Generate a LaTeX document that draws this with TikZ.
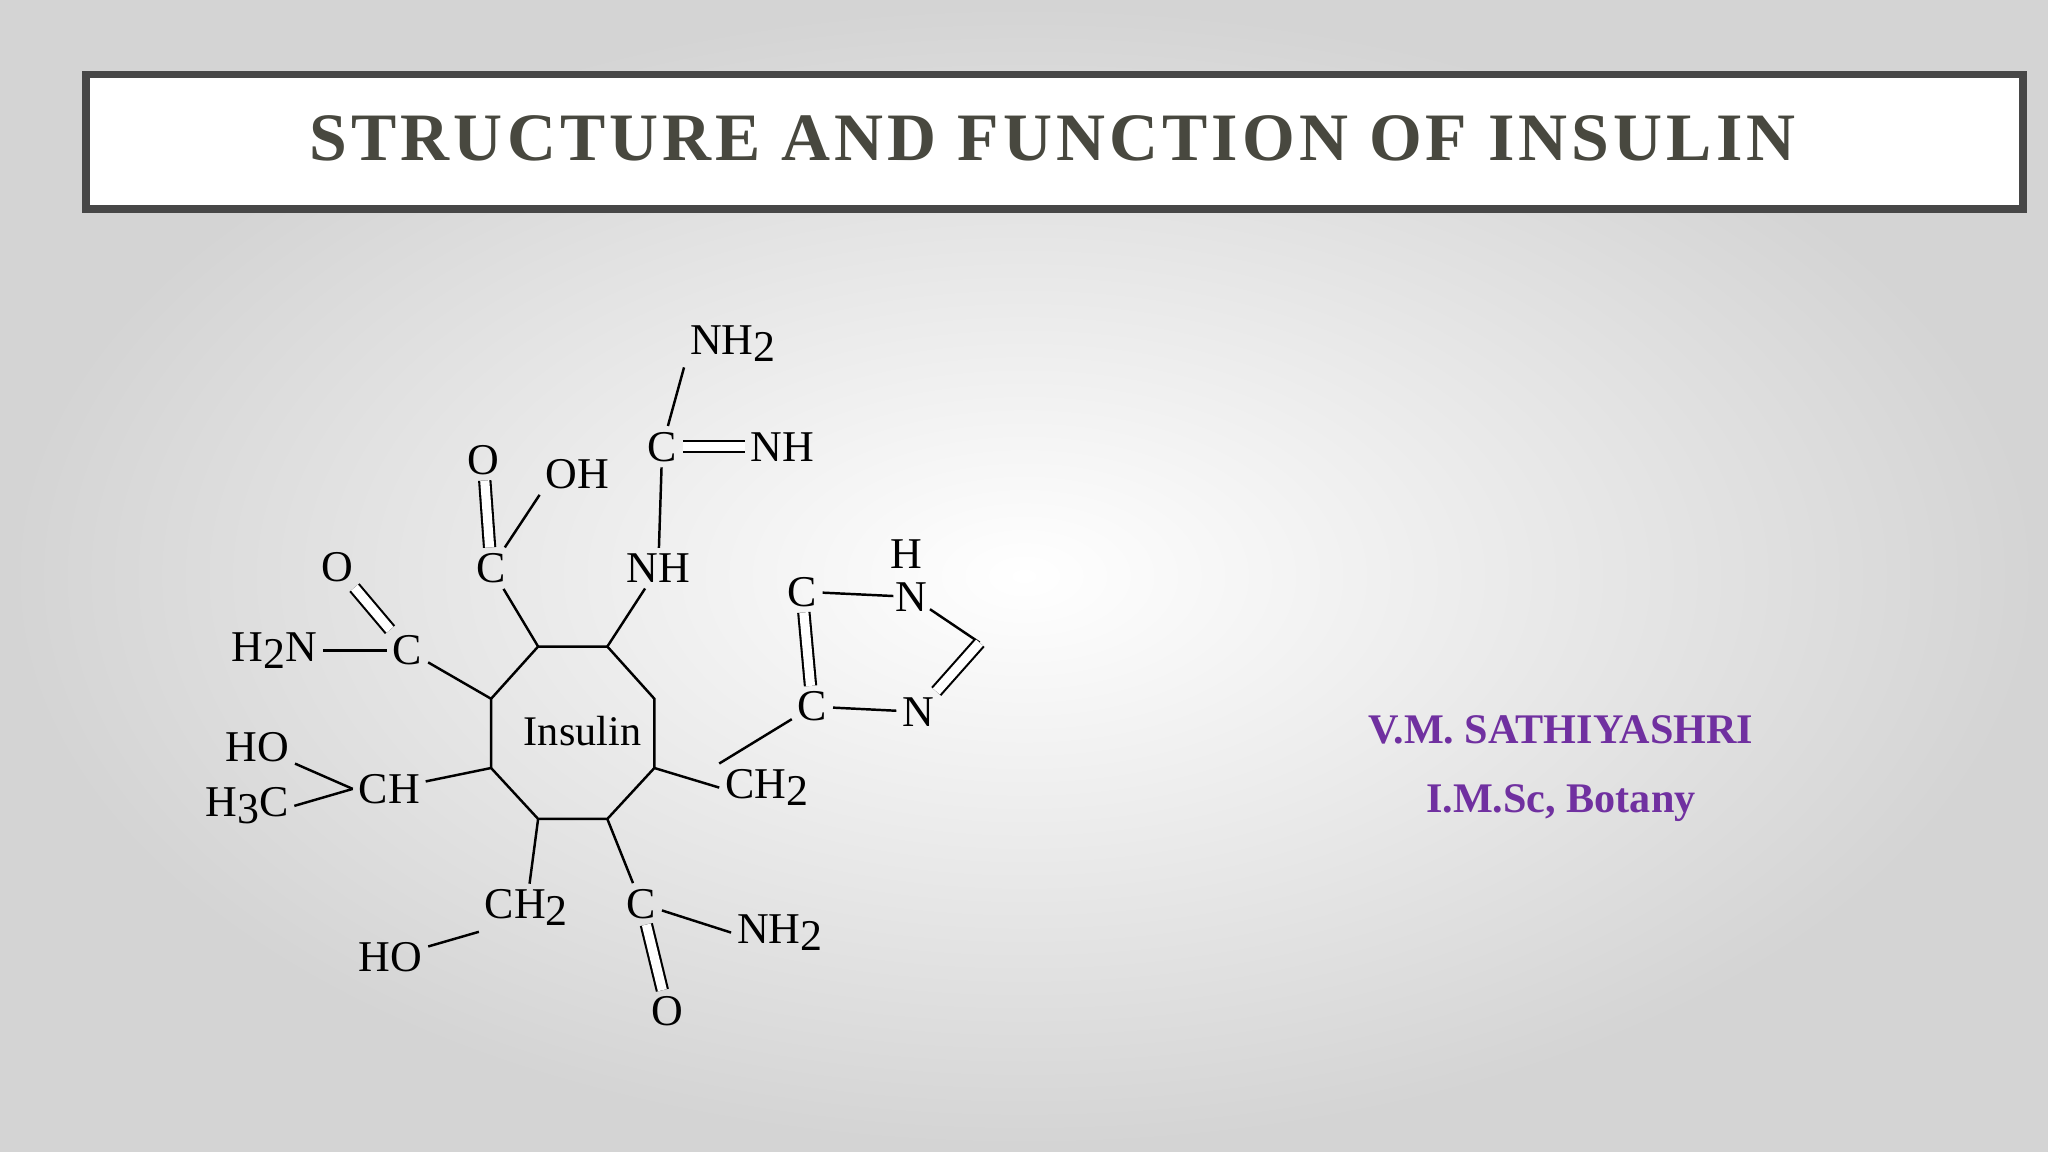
\documentclass[tikz,border=0pt]{standalone}
\usepackage{fontspec}
\setmainfont{Liberation Serif}
\newfontfamily\titlefont[LetterSpace=6]{Liberation Serif}
\definecolor{sigpurple}{HTML}{7030A0}
\definecolor{titlegray}{HTML}{48483F}
\begin{document}
\begin{tikzpicture}[x=0.013061cm,y=-0.013061cm,
  atom/.style={inner sep=1.5pt,font=\fontsize{12.5}{14}\selectfont},
  bond/.style={line width=0.7pt},
  dbond/.style={double,double distance=2.6pt,line width=0.6pt},
  sig/.style={text=sigpurple,font=\fontsize{12}{14}\selectfont\bfseries}]
\newcommand{\ts}[1]{\raisebox{-0.35ex}{#1}}
\shade[inner color=white,outer color=black!17] (0,0) rectangle (1568,882);
\useasboundingbox (0,0) rectangle (1568,882);
\node[draw=black!72,line width=2.2pt,fill=white,minimum width=1483*0.013061cm,minimum height=103*0.013061cm] (title) at (807.5,108.5) {};
\node[text=titlegray,font=\titlefont\fontsize{19.3}{24}\selectfont\bfseries] (tt) at (806,106) {STRUCTURE AND FUNCTION OF INSULIN};
% octagon
\coordinate (v1) at (412,495); \coordinate (v2) at (465,495); \coordinate (v3) at (501,535); \coordinate (v4) at (501,588);
\coordinate (v5) at (465,627); \coordinate (v6) at (412,627); \coordinate (v7) at (376,588); \coordinate (v8) at (376,535);
\draw[bond] (v1)--(v2)--(v3)--(v4)--(v5)--(v6)--(v7)--(v8)--cycle;
\node[atom,font=\fontsize{12}{14}\selectfont] (ins) at (446,560) {Insulin};
% top left COOH
\node[atom] (c1) at (376,435) {C};
\node[atom] (o1) at (370,352) {O};
\node[atom] (oh1) at (442,363) {OH};
\draw[bond] (v1)--(c1); \draw[dbond] (c1)--(o1); \draw[bond] (c1)--(oh1.south west);
% arginine
\node[atom] (nh1) at (504,435) {NH};
\node[atom] (c2) at (507,342) {C};
\node[atom] (nh2) at (599,342) {NH};
\node[atom] (nh3) at (561,263) {NH\ts{2}};
\draw[bond] (v2)--(nh1); \draw[bond] (nh1)--(c2); \draw[dbond] (c2)--(nh2); \draw[bond] (c2)--(nh3.south west);
% amide left
\node[atom] (c3) at (312,498) {C};
\node[atom] (h2n) at (210,498) {H\ts{2}N};
\node[atom] (o3) at (258,434) {O};
\draw[bond] (v8)--(c3); \draw[bond] (h2n)--(c3); \draw[dbond] (c3)--(o3);
% threonine
\node[atom] (ch) at (298,604) {CH};
\node[atom] (ho1) at (197,572) {HO};
\node[atom] (h3c) at (189,617) {H\ts{3}C};
\draw[bond] (v7)--(ch); \draw[bond] (ho1)--(ch.west); \draw[bond] (h3c.east)--(ch.west);
% serine
\node[atom] (ch2a) at (403,695) {CH\ts{2}};
\node[atom] (ho2) at (299,733) {HO};
\draw[bond] (v6)--(ch2a); \draw[bond] (ho2)--(ch2a.south west);
% amide bottom
\node[atom] (c4) at (491,692) {C};
\node[atom] (nh4) at (597,714) {NH\ts{2}};
\node[atom] (o4) at (511,774) {O};
\draw[bond] (v5)--(c4); \draw[bond] (c4)--(nh4.west); \draw[dbond] (c4)--(o4);
% histidine
\node[atom] (ch2b) at (587,603) {CH\ts{2}};
\node[atom] (c5) at (622,541) {C};
\node[atom] (c6) at (614,453) {C};
\node[atom,inner sep=0.5pt] (n1) at (698,457) {N};
\node[atom,inner sep=0.5pt] (h1) at (694,424) {H};
\coordinate (c7) at (750,492);
\node[atom] (n2) at (703,545) {N};
\draw[bond] (v4)--(ch2b.west); \draw[bond] (ch2b.north west)--(c5);
\draw[dbond] (c5)--(c6); \draw[bond] (c6)--(n1); \draw[bond] (n1)--(c7); \draw[dbond] (c7)--(n2); \draw[bond] (n2)--(c5);
% signature
\node[sig] (s1) at (1195,559) {V.M. SATHIYASHRI};
\node[sig] (s2) at (1195,615) {I.M.Sc, Botany};
\end{tikzpicture}
\end{document}
